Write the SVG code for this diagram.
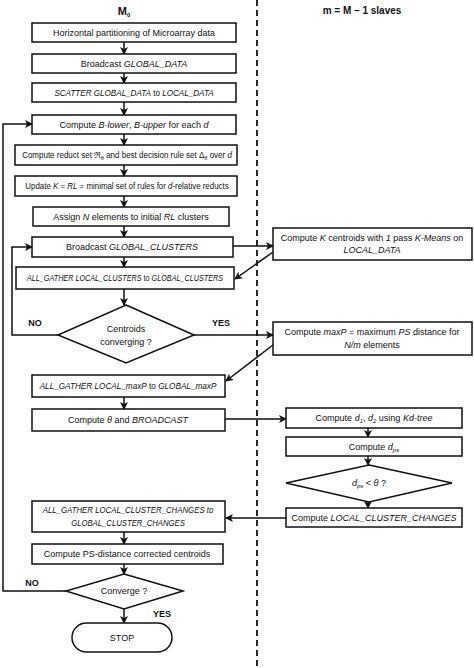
<svg xmlns="http://www.w3.org/2000/svg" width="474" height="668" viewBox="0 0 474 668">
<style>
text{font-family:"Liberation Sans",Arial,sans-serif;font-size:9px;fill:#111;text-anchor:middle}
.b{font-weight:bold}
.i{font-style:italic}
.box{fill:#fff;stroke:#111;stroke-width:1.5}
.ln{fill:none;stroke:#111;stroke-width:1.5}
.sub{font-size:6px}
</style>
<defs>
<marker id="ah" markerUnits="userSpaceOnUse" markerWidth="8" markerHeight="8" refX="7" refY="4" orient="auto">
<path d="M0,0 L8,4 L0,8 L2,4 z" fill="#111"/>
</marker>
</defs>
<rect width="474" height="668" fill="#fff"/>
<line x1="257" y1="0" x2="257" y2="668" stroke="#111" stroke-width="1.8" stroke-dasharray="6 4"/>
<text class="b" x="124" y="15" style="font-size:11px">M<tspan class="sub" dy="2">0</tspan></text>
<text class="b" x="362" y="14" style="font-size:10px">m = M – 1 slaves</text>

<g id="connectors">
<line class="ln" x1="124" y1="42" x2="124" y2="54" marker-end="url(#ah)"/>
<line class="ln" x1="124" y1="73" x2="124" y2="83" marker-end="url(#ah)"/>
<line class="ln" x1="124" y1="102" x2="124" y2="115" marker-end="url(#ah)"/>
<line class="ln" x1="124" y1="134" x2="124" y2="145" marker-end="url(#ah)"/>
<line class="ln" x1="124" y1="165" x2="124" y2="176" marker-end="url(#ah)"/>
<line class="ln" x1="124" y1="196" x2="124" y2="207" marker-end="url(#ah)"/>
<line class="ln" x1="124" y1="226" x2="124" y2="237" marker-end="url(#ah)"/>
<line class="ln" x1="124" y1="257" x2="124" y2="267" marker-end="url(#ah)"/>
<line class="ln" x1="124" y1="289" x2="124" y2="305" marker-end="url(#ah)"/>
<line class="ln" x1="124" y1="397" x2="124" y2="409" marker-end="url(#ah)"/>
<line class="ln" x1="124" y1="532" x2="124" y2="544" marker-end="url(#ah)"/>
<line class="ln" x1="124" y1="564" x2="124" y2="574" marker-end="url(#ah)"/>
<line class="ln" x1="124" y1="609" x2="124" y2="623" marker-end="url(#ah)"/>
<polyline class="ln" points="58,335 12,335 12,247 32,247" marker-end="url(#ah)"/>
<polyline class="ln" points="66,591 3,591 3,124 32,124" marker-end="url(#ah)"/>
<line class="ln" x1="233" y1="246" x2="273" y2="246" marker-end="url(#ah)"/>
<line class="ln" x1="273" y1="252" x2="235" y2="279" marker-end="url(#ah)"/>
<line class="ln" x1="192" y1="335" x2="273" y2="335" marker-end="url(#ah)"/>
<line class="ln" x1="273" y1="345" x2="226" y2="381" marker-end="url(#ah)"/>
<line class="ln" x1="225" y1="419" x2="286" y2="419" marker-end="url(#ah)"/>
<line class="ln" x1="368" y1="428" x2="368" y2="437" marker-end="url(#ah)"/>
<line class="ln" x1="368" y1="456" x2="368" y2="465" marker-end="url(#ah)"/>
<line class="ln" x1="368" y1="502" x2="368" y2="508" marker-end="url(#ah)"/>
<line class="ln" x1="286" y1="518" x2="226" y2="518" marker-end="url(#ah)"/>
<text class="b" x="35" y="326">NO</text>
<text class="b" x="221" y="326">YES</text>
<text class="b" x="32" y="586">NO</text>
<text class="b" x="162" y="617">YES</text>
</g>

<g id="n1"><rect class="box" x="32" y="23" width="204" height="19"/><text x="134" y="35.5">Horizontal partitioning of Microarray data</text></g>
<g id="n2"><rect class="box" x="32" y="54" width="204" height="19"/><text x="134" y="66.5">Broadcast <tspan class="i">GLOBAL_DATA</tspan></text></g>
<g id="n3"><rect class="box" x="32" y="83" width="204" height="19"/><text transform="translate(134,95.5) scale(0.9,1)"><tspan class="i">SCATTER GLOBAL_DATA</tspan> to <tspan class="i">LOCAL_DATA</tspan></text></g>
<g id="n4"><rect class="box" x="32" y="115" width="204" height="19"/><text x="134" y="127.5">Compute <tspan class="i">B-lower</tspan>, <tspan class="i">B-upper</tspan> for each <tspan class="i">d</tspan></text></g>
<g id="n5"><rect class="box" x="15" y="145" width="222" height="20"/><text transform="translate(127,158) scale(0.93,1)" style="font-size:8.6px">Compute reduct set ℜ<tspan class="sub" dy="2">θ</tspan><tspan dy="-2"> and best decision rule set Δ</tspan><tspan class="sub" dy="2">θ</tspan><tspan dy="-2"> over </tspan><tspan class="i">d</tspan></text></g>
<g id="n6"><rect class="box" x="15" y="176" width="222" height="20"/><text transform="translate(127,189) scale(0.92,1)" style="font-size:8.6px">Update <tspan class="i">K</tspan> = <tspan class="i">RL</tspan> = minimal set of rules for <tspan class="i">d</tspan>-relative reducts</text></g>
<g id="n7"><rect class="box" x="33" y="207" width="196" height="19"/><text x="131" y="219.5">Assign <tspan class="i">N</tspan> elements to initial <tspan class="i">RL</tspan> clusters</text></g>
<g id="n8"><rect class="box" x="32" y="237" width="201" height="20"/><text x="132" y="250">Broadcast <tspan class="i">GLOBAL_CLUSTERS</tspan></text></g>
<g id="n9"><rect class="box" x="16" y="267" width="218" height="22"/><text transform="translate(125,281) scale(0.84,1)" style="font-size:8.6px"><tspan class="i">ALL_GATHER  LOCAL_CLUSTERS</tspan> to <tspan class="i">GLOBAL_CLUSTERS</tspan></text></g>
<g id="n10"><polygon class="box" points="126,305 194,335 126,363 58,335"/><text x="126" y="332">Centroids</text><text x="126" y="345">converging ?</text></g>
<g id="n11"><rect class="box" x="32" y="375" width="193" height="22"/><text transform="translate(128,389) scale(0.91,1)"><tspan class="i">ALL_GATHER  LOCAL_maxP</tspan> to <tspan class="i">GLOBAL_maxP</tspan></text></g>
<g id="n12"><rect class="box" x="32" y="409" width="193" height="22"/><text x="128" y="423">Compute <tspan class="i">θ</tspan> and <tspan class="i">BROADCAST</tspan></text></g>
<g id="n13"><rect class="box" x="32" y="501" width="193" height="31"/><text class="i" transform="translate(128,513) scale(0.87,1)">ALL_GATHER  LOCAL_CLUSTER_CHANGES to</text><text class="i" transform="translate(128,526) scale(0.86,1)">GLOBAL_CLUSTER_CHANGES</text></g>
<g id="n14"><rect class="box" x="32" y="544" width="191" height="20"/><text x="127" y="557">Compute PS-distance corrected centroids</text></g>
<g id="n15"><polygon class="box" points="124,574 183,591 124,609 66,591"/><text x="124" y="594">Converge ?</text></g>
<g id="n16"><rect class="box" x="72" y="623" width="100" height="29" rx="14.5"/><text x="122" y="641">STOP</text></g>

<g id="s1"><rect class="box" x="273" y="228" width="199" height="32"/><text x="372" y="240.5">Compute <tspan class="i">K</tspan> centroids with <tspan class="i">1</tspan> pass <tspan class="i">K-Means</tspan> on</text><text class="i" x="372" y="253">LOCAL_DATA</text></g>
<g id="s2"><rect class="box" x="273" y="322" width="199" height="33"/><text x="372" y="335">Compute <tspan class="i">maxP</tspan> = maximum <tspan class="i">PS</tspan> distance for</text><text x="372" y="348"><tspan class="i">N/m</tspan> elements</text></g>
<g id="s3"><rect class="box" x="286" y="408" width="176" height="20"/><text x="374" y="421">Compute <tspan class="i">d</tspan><tspan class="sub i" dy="2">1</tspan><tspan dy="-2">, </tspan><tspan class="i">d</tspan><tspan class="sub i" dy="2">2</tspan><tspan dy="-2"> using </tspan><tspan class="i">Kd-tree</tspan></text></g>
<g id="s4"><rect class="box" x="286" y="437" width="176" height="19"/><text x="374" y="449.5">Compute <tspan class="i">d</tspan><tspan class="sub i" dy="2">ps</tspan></text></g>
<g id="s5"><polygon class="box" points="369,465 452,483 369,502 286,483"/><text x="369" y="486"><tspan class="i">d</tspan><tspan class="sub i" dy="2">ps</tspan><tspan dy="-2"> &lt; </tspan><tspan class="i">θ</tspan> ?</text></g>
<g id="s6"><rect class="box" x="286" y="508" width="176" height="19"/><text x="374" y="520.5">Compute <tspan class="i">LOCAL_CLUSTER_CHANGES</tspan></text></g>
</svg>
